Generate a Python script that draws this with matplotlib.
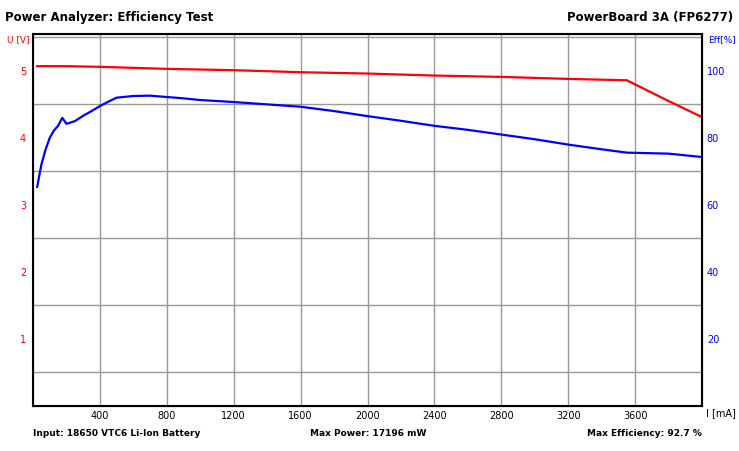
import matplotlib
matplotlib.use("Agg")
import matplotlib.pyplot as plt

i_v = [25, 200, 400, 800, 1200, 1600, 2000, 2400, 2800, 3200, 3550, 3800, 4000]
volt = [5.07, 5.07, 5.06, 5.03, 5.01, 4.98, 4.96, 4.93, 4.91, 4.88, 4.86, 4.55, 4.31]
i_e = [25, 50, 75, 100, 125, 150, 175, 200, 250, 300, 350, 400, 450, 500, 600, 700, 800, 900, 1000,
       1200, 1400, 1600, 1800, 2000, 2200, 2400, 2600, 2800, 3000, 3200, 3400, 3550, 3800, 4000]
eff = [65.4, 72.0, 76.5, 80.0, 82.2, 83.6, 86.0, 84.2, 85.0, 86.6, 88.0, 89.5, 90.8, 92.0, 92.5, 92.6,
       92.2, 91.8, 91.3, 90.7, 90.0, 89.3, 88.0, 86.5, 85.1, 83.6, 82.4, 81.0, 79.6, 78.0, 76.6, 75.6, 75.3, 74.3]
xticks = [400, 800, 1200, 1600, 2000, 2400, 2800, 3200, 3600]

fig = plt.figure(figsize=(7.39, 4.51), dpi=100)
ax = fig.add_axes([33/739, 1-406/451, 669/739, 372/451])
ax.set_xlim(0, 4000)
ax.set_ylim(0, 5.55)
ax.set_xticks(xticks)
ax.set_yticks([1, 2, 3, 4, 5])
ax.set_yticks([0.5*k for k in range(1, 12)], minor=True)
ax.grid(True, which='major', axis='x', color='#999999', lw=1)
ax.grid(True, which='minor', axis='y', color='#999999', lw=1)
ax.tick_params(axis='y', colors='red', labelsize=7, length=0, pad=5)
ax.tick_params(axis='x', labelsize=7, length=0, colors='black')
ax.tick_params(axis='y', which='minor', length=0)
for s in ax.spines.values():
    s.set_linewidth(1.5)
ax.plot(i_v, volt, color='red', lw=1.6)
ax2 = ax.twinx()
ax2.set_ylim(0, 111)
ax2.set_yticks([20, 40, 60, 80, 100])
ax2.tick_params(axis='y', colors='blue', labelsize=7, length=0)
ax2.plot(i_e, eff, color='blue', lw=1.6)
fig.text(7/739, 1-40/451, 'U [V]', color='red', fontsize=6.5, va='center')
fig.text(708/739, 1-40/451, 'Eff[%]', color='blue', fontsize=6.5, va='center')
fig.text(706/739, 1-413/451, 'I [mA]', fontsize=7, va='center')
fig.text(5/739, 1-18/451, 'Power Analyzer: Efficiency Test', fontsize=8.5, weight='bold', va='center')
fig.text(733/739, 1-18/451, 'PowerBoard 3A (FP6277)', fontsize=8.5, weight='bold', va='center', ha='right')
fig.text(33/739, 1-433/451, 'Input: 18650 VTC6 Li-Ion Battery', fontsize=6.5, weight='bold', va='center')
fig.text(368/739, 1-433/451, 'Max Power: 17196 mW', fontsize=6.5, weight='bold', va='center', ha='center')
fig.text(702/739, 1-433/451, 'Max Efficiency: 92.7 %', fontsize=6.5, weight='bold', va='center', ha='right')
fig.savefig('out.png', dpi=100)
